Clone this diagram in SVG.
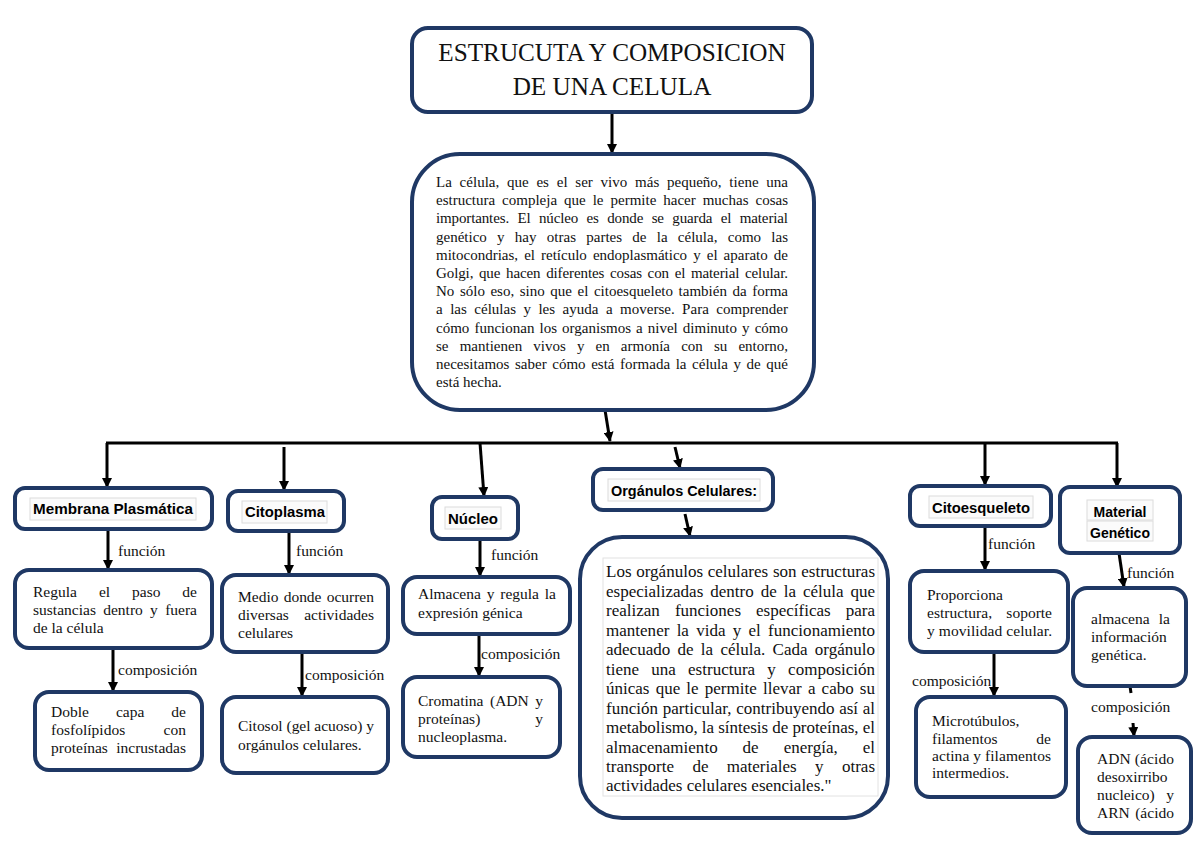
<svg xmlns="http://www.w3.org/2000/svg" width="1200" height="849" viewBox="0 0 1200 849">
<defs>
<marker id="ah" viewBox="0 0 10 10" refX="9" refY="5" markerWidth="10" markerHeight="10" markerUnits="userSpaceOnUse" orient="auto">
<path d="M0,0 L10,5 L0,10 z" fill="#000"/>
</marker>
<style>
.box{fill:#fff;stroke:#1f3864;stroke-width:4}
.hl{fill:#fbfbfb;stroke:#dcdcdc;stroke-width:1}
.lbl{font-family:"Liberation Sans",Arial,sans-serif;font-weight:bold;font-size:14px;fill:#000;text-anchor:middle}
.t{font-family:"Liberation Serif","Times New Roman",serif;font-size:15.5px;fill:#111}
.p{font-family:"Liberation Serif","Times New Roman",serif;font-size:15px;fill:#111}
.big{font-family:"Liberation Serif","Times New Roman",serif;font-size:17px;fill:#111}
.title{font-family:"Liberation Serif","Times New Roman",serif;font-size:25.2px;fill:#111;text-anchor:middle}
.c{stroke:#000;stroke-width:3;fill:none}
.ca{stroke:#000;stroke-width:3;fill:none;marker-end:url(#ah)}
</style>
</defs>
<rect width="1200" height="849" fill="#fff"/>

<g id="connectors">
<line class="ca" x1="612" y1="114" x2="612" y2="153"/>
<line class="ca" x1="605" y1="410" x2="610" y2="441"/>
<line class="c" x1="106" y1="443" x2="1118" y2="443"/>
<line class="ca" x1="107" y1="443" x2="107" y2="487"/>
<line class="ca" x1="284" y1="447" x2="284" y2="490"/>
<line class="ca" x1="480" y1="443" x2="484" y2="496"/>
<line class="ca" x1="675" y1="447" x2="680" y2="468"/>
<line class="ca" x1="985" y1="443" x2="985" y2="485"/>
<line class="ca" x1="1117" y1="443" x2="1117" y2="487"/>

<line class="ca" x1="108" y1="529" x2="108" y2="569"/>
<line class="ca" x1="113" y1="648" x2="113" y2="691"/>
<line class="ca" x1="289" y1="531" x2="289" y2="574"/>
<line class="ca" x1="302" y1="652" x2="302" y2="696"/>
<line class="ca" x1="480" y1="539" x2="480" y2="576"/>
<line class="ca" x1="479" y1="634" x2="479" y2="676"/>
<line class="ca" x1="685" y1="514" x2="690" y2="536"/>
<line class="ca" x1="985" y1="526" x2="985" y2="570"/>
<line class="ca" x1="994" y1="652" x2="994" y2="696"/>
<line class="ca" x1="1119" y1="553" x2="1124" y2="587"/>
<line class="c" x1="1130" y1="686" x2="1131" y2="693"/>
<line class="ca" x1="1133" y1="723" x2="1134" y2="736"/>

<text class="t" x="118" y="556">función</text>
<text class="t" x="118" y="675">composición</text>
<text class="t" x="296" y="556">función</text>
<text class="t" x="305" y="680">composición</text>
<text class="t" x="491" y="560">función</text>
<text class="t" x="481" y="659">composición</text>
<text class="t" x="988" y="549">función</text>
<text class="t" x="912" y="686">composición</text>
<text class="t" x="1127" y="578">función</text>
<text class="t" x="1091" y="712">composición</text>
</g>

<g id="title">
<rect class="box" x="412" y="28" width="400" height="84" rx="16"/>
<text class="title" x="612" y="61">ESTRUCUTA Y COMPOSICION</text>
<text class="title" x="612" y="95">DE UNA CELULA</text>
</g>

<g id="intro">
<rect class="box" x="412" y="154" width="402" height="256" rx="48"/>
<text class="p" x="436" y="187" textLength="352" lengthAdjust="spacing" style="word-spacing:4px">La célula, que es el ser vivo más pequeño, tiene una</text>
<text class="p" x="436" y="205.2" textLength="352" lengthAdjust="spacing" style="word-spacing:3.2px">estructura compleja que le permite hacer muchas cosas</text>
<text class="p" x="436" y="223.4" textLength="352" lengthAdjust="spacing" style="word-spacing:4.8px">importantes. El núcleo es donde se guarda el material</text>
<text class="p" x="436" y="241.6" textLength="352" lengthAdjust="spacing" style="word-spacing:6.5px">genético y hay otras partes de la célula, como las</text>
<text class="p" x="436" y="259.8" textLength="352" lengthAdjust="spacing" style="word-spacing:2.3px">mitocondrias, el retículo endoplasmático y el aparato de</text>
<text class="p" x="436" y="278" textLength="352" lengthAdjust="spacing" style="word-spacing:2px">Golgi, que hacen diferentes cosas con el material celular.</text>
<text class="p" x="436" y="296.2" textLength="352" lengthAdjust="spacing" style="word-spacing:1.8px">No sólo eso, sino que el citoesqueleto también da forma</text>
<text class="p" x="436" y="314.4" textLength="352" lengthAdjust="spacing" style="word-spacing:3.7px">a las células y les ayuda a moverse. Para comprender</text>
<text class="p" x="436" y="332.6" textLength="352" lengthAdjust="spacing" style="word-spacing:1.3px">cómo funcionan los organismos a nivel diminuto y cómo</text>
<text class="p" x="436" y="350.8" textLength="352" lengthAdjust="spacing" style="word-spacing:7.4px">se mantienen vivos y en armonía con su entorno,</text>
<text class="p" x="436" y="369" textLength="352" lengthAdjust="spacing" style="word-spacing:1.8px">necesitamos saber cómo está formada la célula y de qué</text>
<text class="p" x="436" y="387.2">está hecha.</text>
</g>

<g id="membrana">
<rect class="box" x="15" y="488" width="197" height="41" rx="10"/>
<rect class="hl" x="30" y="498" width="166" height="22"/>
<text class="lbl" x="113" y="514" textLength="160" lengthAdjust="spacingAndGlyphs">Membrana Plasmática</text>
</g>
<g id="membrana-funcion">
<rect class="box" x="15" y="570" width="197" height="78" rx="14"/>
<text class="t" x="33" y="597" textLength="164" lengthAdjust="spacing" style="word-spacing:18px">Regula el paso de</text>
<text class="t" x="33" y="615" textLength="164" lengthAdjust="spacing" style="word-spacing:3.4px">sustancias dentro y fuera</text>
<text class="t" x="33" y="633">de la célula</text>
</g>
<g id="membrana-composicion">
<rect class="box" x="35" y="692" width="167" height="78" rx="14"/>
<text class="t" x="51" y="717" textLength="135" lengthAdjust="spacing" style="word-spacing:23px">Doble capa de</text>
<text class="t" x="51" y="735" textLength="135" lengthAdjust="spacing" style="word-spacing:34.5px">fosfolípidos con</text>
<text class="t" x="51" y="753" textLength="135" lengthAdjust="spacing" style="word-spacing:4.4px">proteínas incrustadas</text>
</g>

<g id="citoplasma">
<rect class="box" x="228" y="491" width="116" height="40" rx="10"/>
<rect class="hl" x="242" y="501" width="85" height="22"/>
<text class="lbl" x="285" y="517" textLength="80" lengthAdjust="spacingAndGlyphs">Citoplasma</text>
</g>
<g id="citoplasma-funcion">
<rect class="box" x="222" y="575" width="166" height="77" rx="14"/>
<text class="t" x="238" y="602" textLength="136" lengthAdjust="spacing" style="word-spacing:1.3px">Medio donde ocurren</text>
<text class="t" x="238" y="620" textLength="136" lengthAdjust="spacing" style="word-spacing:11.5px">diversas actividades</text>
<text class="t" x="238" y="638">celulares</text>
</g>
<g id="citoplasma-composicion">
<rect class="box" x="222" y="697" width="166" height="76" rx="14"/>
<text class="t" x="238" y="731" textLength="136" lengthAdjust="spacing">Citosol (gel acuoso) y</text>
<text class="t" x="238" y="750">orgánulos celulares.</text>
</g>

<g id="nucleo">
<rect class="box" x="432" y="497" width="86" height="42" rx="10"/>
<rect class="hl" x="445" y="507" width="56" height="22"/>
<text class="lbl" x="473" y="524" textLength="50" lengthAdjust="spacingAndGlyphs">Núcleo</text>
</g>
<g id="nucleo-funcion">
<rect class="box" x="403" y="577" width="167" height="57" rx="14"/>
<text class="t" x="418" y="599" textLength="138" lengthAdjust="spacing" style="word-spacing:1.9px">Almacena y regula la</text>
<text class="t" x="418" y="618">expresión génica</text>
</g>
<g id="nucleo-composicion">
<rect class="box" x="403" y="677" width="157" height="80" rx="14"/>
<text class="t" x="418" y="706" textLength="125" lengthAdjust="spacing" style="word-spacing:2.6px">Cromatina (ADN y</text>
<text class="t" x="418" y="724" textLength="125" lengthAdjust="spacing" style="word-spacing:51px">proteínas) y</text>
<text class="t" x="418" y="742">nucleoplasma.</text>
</g>

<g id="organulos">
<rect class="box" x="593" y="469" width="180" height="41" rx="10"/>
<rect class="hl" x="608" y="479" width="152" height="22"/>
<text class="lbl" x="684" y="496" textLength="146" lengthAdjust="spacingAndGlyphs">Orgánulos Celulares:</text>
</g>
<g id="organulos-texto">
<rect class="box" x="580" y="537" width="308" height="281" rx="42"/>
<rect x="603" y="558" width="275" height="238" fill="none" stroke="#e2e2e2" stroke-width="1"/>
<text class="big" x="606" y="577" textLength="269" lengthAdjust="spacing" style="word-spacing:0.4px">Los orgánulos celulares son estructuras</text>
<text class="big" x="606" y="596.5" textLength="269" lengthAdjust="spacing" style="word-spacing:2.7px">especializadas dentro de la célula que</text>
<text class="big" x="606" y="616" textLength="269" lengthAdjust="spacing" style="word-spacing:10.8px">realizan funciones específicas para</text>
<text class="big" x="606" y="635.5" textLength="269" lengthAdjust="spacing" style="word-spacing:3px">mantener la vida y el funcionamiento</text>
<text class="big" x="606" y="655" textLength="269" lengthAdjust="spacing" style="word-spacing:3px">adecuado de la célula. Cada orgánulo</text>
<text class="big" x="606" y="674.5" textLength="269" lengthAdjust="spacing" style="word-spacing:8px">tiene una estructura y composición</text>
<text class="big" x="606" y="694" textLength="269" lengthAdjust="spacing" style="word-spacing:1.9px">únicas que le permite llevar a cabo su</text>
<text class="big" x="606" y="713.5" textLength="269" lengthAdjust="spacing" style="word-spacing:0.3px">función particular, contribuyendo así al</text>
<text class="big" x="606" y="733" textLength="269" lengthAdjust="spacing">metabolismo, la síntesis de proteínas, el</text>
<text class="big" x="606" y="752.5" textLength="269" lengthAdjust="spacing" style="word-spacing:20.7px">almacenamiento de energía, el</text>
<text class="big" x="606" y="772" textLength="269" lengthAdjust="spacing" style="word-spacing:14.1px">transporte de materiales y otras</text>
<text class="big" x="606" y="791">actividades celulares esenciales."</text>
</g>

<g id="citoesqueleto">
<rect class="box" x="910" y="486" width="141" height="40" rx="10"/>
<rect class="hl" x="929" y="496" width="104" height="22"/>
<text class="lbl" x="981" y="513" textLength="98" lengthAdjust="spacingAndGlyphs">Citoesqueleto</text>
</g>
<g id="citoesqueleto-funcion">
<rect class="box" x="910" y="571" width="158" height="81" rx="14"/>
<text class="t" x="927" y="600">Proporciona</text>
<text class="t" x="927" y="618" textLength="125" lengthAdjust="spacing" style="word-spacing:10.4px">estructura, soporte</text>
<text class="t" x="927" y="636" textLength="125" lengthAdjust="spacing">y movilidad celular.</text>
</g>
<g id="citoesqueleto-composicion">
<rect class="box" x="916" y="697" width="150" height="100" rx="14"/>
<text class="t" x="932" y="726">Microtúbulos,</text>
<text class="t" x="932" y="744" textLength="119" lengthAdjust="spacing" style="word-spacing:35px">filamentos de</text>
<text class="t" x="932" y="761" textLength="119" lengthAdjust="spacing">actina y filamentos</text>
<text class="t" x="932" y="778">intermedios.</text>
</g>

<g id="material">
<rect class="box" x="1060" y="487" width="120" height="66" rx="10"/>
<rect class="hl" x="1087" y="500" width="66" height="20"/>
<rect class="hl" x="1087" y="521" width="66" height="20"/>
<text class="lbl" x="1120" y="517">Material</text>
<text class="lbl" x="1120" y="538">Genético</text>
</g>
<g id="material-funcion">
<rect class="box" x="1073" y="588" width="113" height="98" rx="14"/>
<text class="t" x="1091" y="624" textLength="79" lengthAdjust="spacing" style="word-spacing:5.3px">almacena la</text>
<text class="t" x="1091" y="642">información</text>
<text class="t" x="1091" y="660">genética.</text>
</g>
<g id="material-composicion">
<rect class="box" x="1078" y="737" width="113" height="96" rx="14"/>
<text class="t" x="1097" y="764" textLength="77" lengthAdjust="spacing">ADN (ácido</text>
<text class="t" x="1097" y="782">desoxirribo</text>
<text class="t" x="1097" y="800" textLength="77" lengthAdjust="spacing" style="word-spacing:7.6px">nucleico) y</text>
<text class="t" x="1097" y="818" textLength="77" lengthAdjust="spacing" style="word-spacing:1.5px">ARN (ácido</text>
</g>
</svg>
